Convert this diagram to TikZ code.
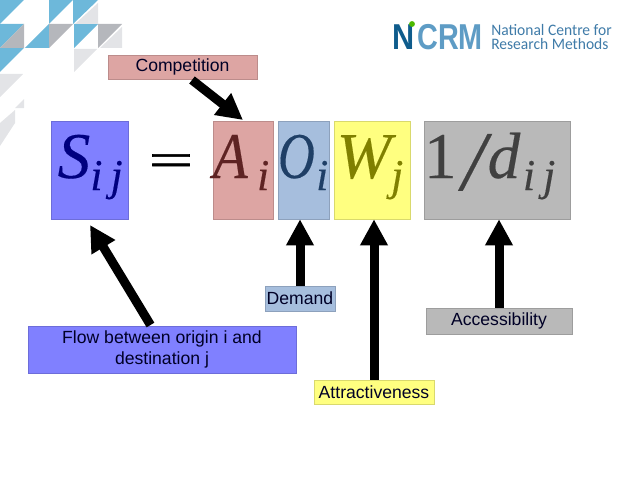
\documentclass[tikz,border=0pt]{standalone}
\usepackage{graphicx}
\usepackage{fontspec}
\setmainfont{Liberation Sans}
\newfontfamily\eqnfont[FakeBold=0.25]{Liberation Serif}
\newfontfamily\eqsignfont[FakeBold=1.2]{Liberation Serif}
\newfontfamily\logofont{Carlito}
\usetikzlibrary{positioning}
\usetikzlibrary{arrows.meta}
\usetikzlibrary{calc}
\definecolor{flowblue}{HTML}{8080FF}
\definecolor{compred}{HTML}{DDA5A3}
\definecolor{demblue}{HTML}{A6BEDD}
\definecolor{attyellow}{HTML}{FFFF80}
\definecolor{accgrey}{HTML}{B9B9B9}
\definecolor{flowink}{HTML}{000080}
\definecolor{compink}{HTML}{5E2323}
\definecolor{demink}{HTML}{1F3F66}
\definecolor{attink}{HTML}{808000}
\definecolor{accink}{HTML}{404040}
\definecolor{tribl}{HTML}{6DB8DA}
\definecolor{trigr}{HTML}{B5B7BC}
\definecolor{trilt}{HTML}{E3E4E7}
\definecolor{logodark}{HTML}{0F5C8C}
\definecolor{logolight}{HTML}{5E9CC5}
\definecolor{logotext}{HTML}{3F7BA8}
\tikzstyle{termbox}=[inner sep=0pt,text height=42.75pt,text depth=30.75pt,align=left]
\tikzstyle{labelbox}=[inner sep=0pt,font=\fontsize{13.2}{16}\selectfont,align=center,text=black!85!blue]
\tikzstyle{bigarrow}=[draw=black,line width=6.75pt,-{Triangle[length=19.5pt,width=19.5pt]}]
\newcommand{\eqnterm}[1]{\mbox{\eqnfont\fontsize{49}{50}\selectfont #1}}
\newcommand{\eqnsub}[1]{\raisebox{-9pt}{\fontsize{33}{35}\selectfont\itshape #1}}
\newcommand{\termS}{\hspace*{5pt}{\itshape S}\eqnsub{i\hspace{6pt}j}}
\newcommand{\termA}{\scalebox{0.87}[1]{\itshape A}\hspace{7pt}\eqnsub{i}}
\newcommand{\termO}{\scalebox{0.78}[1]{\itshape O}\hspace{1pt}\eqnsub{i}}
\newcommand{\termW}{\hspace*{2pt}{\itshape W}\eqnsub{j}}
\newcommand{\termD}{1\hspace{4pt}\raisebox{-9pt}{\scalebox{1.3}{\itshape /}}\hspace{1.5pt}{\itshape d}\hspace{2pt}\eqnsub{i\hspace{6pt}j}}
\begin{document}
\begin{tikzpicture}[x=0.75pt,y=-0.75pt]
    \useasboundingbox (0,0) rectangle (638,478);
    % Triangles in the corner
    \foreach \a/\b/\c in {{(0,0)/(24,0)/(0,24)}, {(49,0)/(73,0)/(49,24)}, {(73,0)/(98,0)/(73,24)},
        {(0,24)/(24,24)/(0,48)}, {(49,24)/(49,48)/(25,48)}, {(74,24)/(98,24)/(74,48)}, {(0,48)/(24,48)/(0,72)}}
        \fill[tribl] \a -- \b -- \c -- cycle;
    \foreach \a/\b/\c in {{(24,24)/(24,48)/(0,48)}, {(49,24)/(73,24)/(49,48)}, {(98,24)/(122,24)/(98,48)}}
        \fill[trigr] \a -- \b -- \c -- cycle;
    \foreach \a/\b/\c in {{(98,3)/(98,24)/(75,24)}, {(122,27)/(122,48)/(100,48)}, {(74,49)/(97,49)/(74,72)},
        {(0,74)/(23,74)/(0,97)}, {(24,99)/(24,108)/(15,108)}, {(15,110)/(15,123)/(0,123)}, {(0,123)/(15,123)/(0,146)}}
        \fill[trilt] \a -- \b -- \c -- cycle;

    % Logo
    \node[inner sep=0pt,text=logodark,xscale=0.85] (logoN) at (404,37) {\fontsize{27}{27}\selectfont\bfseries N};
    \node[inner sep=0pt,text=logolight,xscale=0.8] (logoCRM) at (450,37) {\fontsize{27}{27}\selectfont\bfseries CRM};
    \fill[green!60!black!70!yellow] (412,24) circle (2.2pt);
    \node[inner sep=0pt,anchor=west,text=logotext,xscale=0.97,align=left,font=\logofont\fontsize{12}{10.9}\selectfont] (logoname) at (491,37) {National Centre for\\Research Methods};

    % First we draw the terms
    \foreach \pos/\name/\wide/\fillc/\textc/\label in {
        {(89.5,170)/Sij/57.75pt/flowblue/flowink/\termS},
        {(243,170)/Ai/45pt/compred/compink/\termA},
        {(303.5,170)/Oi/38.25pt/demblue/demink/\termO},
        {(372,170)/Wj/57pt/attyellow/attink/\termW},
        {(497,170)/dij/109.5pt/accgrey/accink/\termD}}
        \node[termbox,fill=\fillc,draw=\fillc!85!black,text=\textc,text width=\wide] (\name) at \pos {\eqnterm{\label}};
    \node[inner sep=0pt,text=black,xscale=1.7] (eqsign) at (171,165) {\eqsignfont\fontsize{35}{35}\selectfont =};

    % Then the labels
    \foreach \pos/\name/\wide/\high/\fillc/\label in {
        {(182.5,67)/Competition/111.75pt/18pt/compred/Competition},
        {(300,298.5)/Demand/52.5pt/18.75pt/demblue/Demand},
        {(499,321)/Accessibility/109.5pt/19.5pt/accgrey/Accessibility},
        {(374,392)/Attractiveness/90pt/18pt/attyellow/Attractiveness},
        {(162,349.5)/Flow/201pt/35.25pt/flowblue/{Flow between origin i and\\destination j}}}
        \node[labelbox,fill=\fillc,draw=\fillc!85!black,minimum width=\wide,minimum height=\high] (\name) at \pos {\label};

    % Connect labels with terms
    \coordinate (comptail) at (192,80);
    \coordinate (comptip) at (243,120);
    \coordinate (flowtail) at (150.5,325);
    \coordinate (flowtip) at (90,225);
    \draw[bigarrow] (comptail) -- (comptip);
    \draw[bigarrow] (flowtail) -- (flowtip);
    \draw[bigarrow] (Demand.north) -- (Demand.north |- Oi.south);
    \draw[bigarrow] (Attractiveness.north) -- (Attractiveness.north |- Wj.south);
    \draw[bigarrow] (Accessibility.north) -- (Accessibility.north |- dij.south);
\end{tikzpicture}
\end{document}
